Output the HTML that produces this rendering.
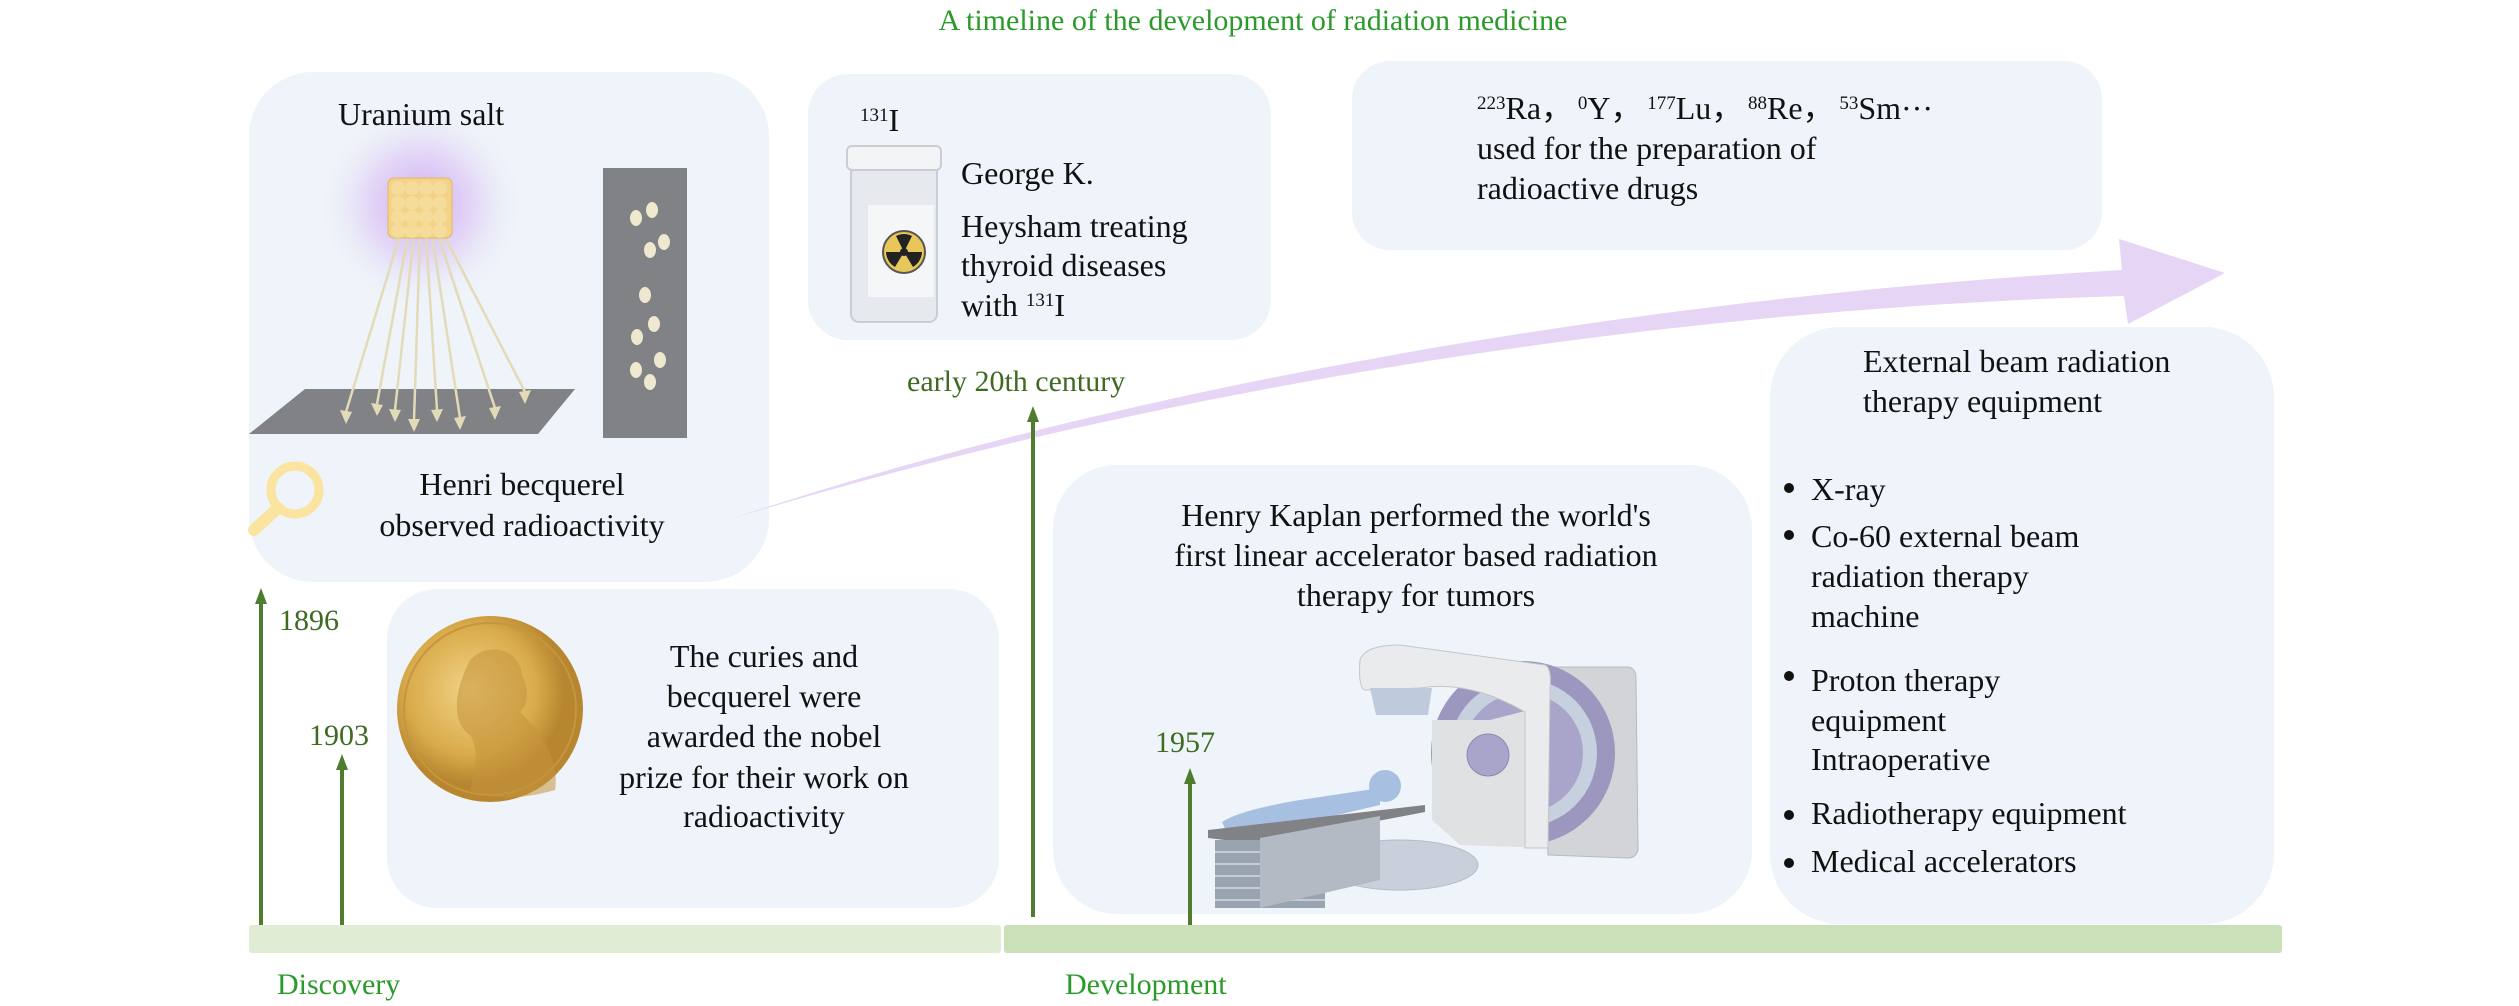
<!DOCTYPE html>
<html><head><meta charset="utf-8"><style>
html,body{margin:0;padding:0;background:#fff;}
svg{display:block;}
text{font-family:"Liberation Serif",serif;}
</style></head><body>
<svg width="2519" height="1006" viewBox="0 0 2519 1006" xmlns="http://www.w3.org/2000/svg">
<defs>
<radialGradient id="glow"><stop offset="0" stop-color="#c89cf2" stop-opacity="0.9"/><stop offset="0.5" stop-color="#dcc3f5" stop-opacity="0.6"/><stop offset="1" stop-color="#eef4f9" stop-opacity="0"/></radialGradient>
<radialGradient id="gold" cx="0.4" cy="0.4"><stop offset="0" stop-color="#f1d488"/><stop offset="0.7" stop-color="#d9aa4a"/><stop offset="1" stop-color="#b7862f"/></radialGradient>
</defs>

<text x="1253" y="30" font-size="30" fill="#2a9a2a" text-anchor="middle">A timeline of the development of radiation medicine</text>

<rect x="249" y="72" width="520" height="510" rx="64" fill="#eef4f9"/>
<rect x="808" y="74" width="463" height="266" rx="40" fill="#eef4f9"/>
<rect x="1352" y="61" width="750" height="189" rx="38" fill="#eef4f9"/>
<rect x="387" y="589" width="612" height="319" rx="50" fill="#eef4f9"/>
<rect x="1053" y="465" width="699" height="449" rx="64" fill="#eef4f9"/>
<rect x="1770" y="327" width="504" height="597" rx="70" fill="#eef4f9"/>

<rect x="249" y="925" width="752" height="28" rx="3" fill="#e0ecd3"/>
<rect x="1004" y="925" width="1278" height="28" rx="3" fill="#c9e0b8"/>
<text x="277" y="994" font-size="30" fill="#2a9a2a">Discovery</text>
<text x="1065" y="994" font-size="30" fill="#2a9a2a">Development</text>

<path d="M731,519 C1100,395 1600,300 2122,270 L2119,239 L2225,273 L2128,324 L2124,296 C1620,310 1120,400 731,519 Z" fill="#e6d5f5"/>

<g stroke="#4e7d2e" stroke-width="4" fill="none">
<line x1="261" y1="925" x2="261" y2="600"/>
<line x1="342" y1="925" x2="342" y2="766"/>
<line x1="1033" y1="917" x2="1033" y2="418"/>
<line x1="1190" y1="925" x2="1190" y2="780"/>
</g>
<g fill="#4e7d2e">
<polygon points="255,604 261,588 267,604"/>
<polygon points="336,770 342,754 348,770"/>
<polygon points="1027,422 1033,406 1039,422"/>
<polygon points="1184,784 1190,768 1196,784"/>
</g>
<g font-size="30" fill="#3f6a22">
<text x="279" y="630">1896</text>
<text x="309" y="745">1903</text>
<text x="907" y="391">early 20th century</text>
<text x="1155" y="752">1957</text>
</g>

<circle cx="421" cy="205" r="105" fill="url(#glow)"/>
<polygon points="249,434 305,389 575,389 538,434" fill="#808285"/>
<g stroke="#e3dab8" stroke-width="2.5">
<line x1="400" y1="235" x2="346" y2="412"/>
<line x1="408" y1="235" x2="377" y2="404"/>
<line x1="414" y1="235" x2="395" y2="410"/>
<line x1="420" y1="235" x2="414" y2="420"/>
<line x1="426" y1="235" x2="437" y2="410"/>
<line x1="432" y1="235" x2="460" y2="418"/>
<line x1="438" y1="235" x2="495" y2="408"/>
<line x1="444" y1="235" x2="525" y2="392"/>
</g>
<g fill="#e3dab8">
<polygon points="340,410 346,424 352,412"/>
<polygon points="371,403 377,416 383,405"/>
<polygon points="389,409 395,422 401,410"/>
<polygon points="408,419 414,432 420,419"/>
<polygon points="431,410 437,422 443,409"/>
<polygon points="454,418 460,430 466,416"/>
<polygon points="489,408 495,420 501,406"/>
<polygon points="519,392 525,404 531,390"/>
</g>
<rect x="388" y="178" width="64" height="60" rx="6" fill="#f3d38a" stroke="#e0b860"/>
<g fill="#f6dc9a">
<circle cx="398" cy="188" r="7"/><circle cx="412" cy="188" r="7"/><circle cx="426" cy="188" r="7"/><circle cx="440" cy="188" r="7"/>
<circle cx="398" cy="203" r="7"/><circle cx="412" cy="203" r="7"/><circle cx="426" cy="203" r="7"/><circle cx="440" cy="203" r="7"/>
<circle cx="398" cy="217" r="7"/><circle cx="412" cy="217" r="7"/><circle cx="426" cy="217" r="7"/><circle cx="440" cy="217" r="7"/>
<circle cx="398" cy="231" r="7"/><circle cx="412" cy="231" r="7"/><circle cx="426" cy="231" r="7"/><circle cx="440" cy="231" r="7"/>
</g>
<rect x="603" y="168" width="84" height="270" fill="#808285"/>
<g fill="#eee8cf">
<ellipse cx="636" cy="218" rx="6" ry="8"/><ellipse cx="652" cy="210" rx="6" ry="8"/>
<ellipse cx="650" cy="250" rx="6" ry="8"/><ellipse cx="664" cy="242" rx="6" ry="8"/>
<ellipse cx="645" cy="295" rx="6" ry="8"/>
<ellipse cx="637" cy="337" rx="6" ry="8"/><ellipse cx="654" cy="324" rx="6" ry="8"/>
<ellipse cx="660" cy="360" rx="6" ry="8"/><ellipse cx="636" cy="370" rx="6" ry="8"/><ellipse cx="650" cy="382" rx="6" ry="8"/>
</g>
<circle cx="295" cy="490" r="24" fill="none" stroke="#fbe3a0" stroke-width="9"/>
<line x1="278" y1="508" x2="254" y2="530" stroke="#fbe3a0" stroke-width="12" stroke-linecap="round"/>
<g font-size="32" fill="#111">
<text x="338" y="125">Uranium salt</text>
<text x="522" y="495" text-anchor="middle">Henri becquerel</text>
<text x="522" y="536" text-anchor="middle">observed radioactivity</text>
</g>

<rect x="851" y="150" width="86" height="172" rx="8" fill="#e6eaee" stroke="#c9ced3" stroke-width="2"/>
<rect x="847" y="146" width="94" height="24" rx="5" fill="#f2f4f6" stroke="#c9ced3" stroke-width="2"/>
<rect x="868" y="205" width="66" height="92" fill="#f4f6f8"/>
<circle cx="904" cy="252" r="21" fill="#e8c75a" stroke="#555" stroke-width="2"/>
<circle cx="904" cy="252" r="4" fill="#222"/>
<path d="M904,252 L896,236 A18,18 0 0 1 912,236 Z M904,252 L922,252 A18,18 0 0 1 913,267 Z M904,252 L895,267 A18,18 0 0 1 886,252 Z" fill="#222"/>
<g font-size="32" fill="#111">
<text x="860" y="131"><tspan font-size="19" dy="-10">131</tspan><tspan dy="10">I</tspan></text>
<text x="961" y="184">George K.</text>
<text x="961" y="237">Heysham treating</text>
<text x="961" y="276">thyroid diseases</text>
<text x="961" y="316">with <tspan font-size="19" dy="-10">131</tspan><tspan dy="10">I</tspan></text>
</g>

<g font-size="32" fill="#111">
<text x="1477" y="119"><tspan font-size="19" dy="-10">223</tspan><tspan dy="10">Ra，</tspan><tspan font-size="19" dy="-10"> 0</tspan><tspan dy="10">Y，</tspan><tspan font-size="19" dy="-10"> 177</tspan><tspan dy="10">Lu，</tspan><tspan font-size="19" dy="-10"> 88</tspan><tspan dy="10">Re，</tspan><tspan font-size="19" dy="-10"> 53</tspan><tspan dy="10">Sm···</tspan></text>
<text x="1477" y="159">used for the preparation of</text>
<text x="1477" y="199">radioactive drugs</text>
</g>

<circle cx="490" cy="709" r="93" fill="url(#gold)"/>
<circle cx="490" cy="709" r="86" fill="none" stroke="#c4963f" stroke-width="2"/>
<path d="M470,660 C490,640 520,650 522,675 C530,690 528,705 520,712 C540,730 560,760 555,790 C520,800 490,800 470,790 C475,770 480,750 470,735 C455,725 450,700 470,660 Z" fill="#c4933c" opacity="0.55"/>
<g font-size="32" fill="#111" text-anchor="middle">
<text x="764" y="667">The curies and</text>
<text x="764" y="707">becquerel were</text>
<text x="764" y="747">awarded the nobel</text>
<text x="764" y="788">prize for their work on</text>
<text x="764" y="827">radioactivity</text>
</g>

<g font-size="32" fill="#111" text-anchor="middle">
<text x="1416" y="526">Henry Kaplan performed the world's</text>
<text x="1416" y="566">first linear accelerator based radiation</text>
<text x="1416" y="606">therapy for tumors</text>
</g>
<path d="M1543,667 L1628,667 Q1636,668 1636,678 L1638,850 Q1636,858 1628,858 L1548,855 Z" fill="#d2d4d7" stroke="#b8bbbf"/>
<circle cx="1523" cy="753" r="92" fill="#9b97bf"/>
<circle cx="1523" cy="753" r="74" fill="#c7d0de"/>
<circle cx="1523" cy="753" r="60" fill="#a9a4c9"/>
<path d="M1432,720 L1490,720 L1548,705 L1548,848 L1460,845 L1432,820 Z" fill="#dfe1e3"/>
<path d="M1360,660 Q1365,645 1400,645 L1545,665 Q1552,668 1550,690 L1548,848 L1525,848 L1525,712 Q1470,680 1420,688 L1365,690 Q1358,688 1360,660 Z" fill="#e9ebed" stroke="#c3c6ca"/>
<path d="M1370,688 L1432,688 L1428,715 L1376,715 Z" fill="#bfcadc"/>
<circle cx="1488" cy="755" r="21" fill="#a9a4c9" stroke="#8c88b0"/>
<ellipse cx="1400" cy="865" rx="78" ry="25" fill="#c9d0db" stroke="#b5bcc7"/>
<path d="M1222,822 Q1240,810 1300,800 L1380,788 L1380,805 L1230,840 Z" fill="#a7bfe0"/>
<circle cx="1385" cy="786" r="16" fill="#a7bfe0"/>
<polygon points="1208,830 1425,805 1425,812 1258,844 1208,838" fill="#808285"/>
<rect x="1215" y="840" width="110" height="68" fill="#9aa3b0"/>
<g stroke="#c5ccd6" stroke-width="2"><line x1="1215" y1="852" x2="1325" y2="852"/><line x1="1215" y1="864" x2="1325" y2="864"/><line x1="1215" y1="876" x2="1325" y2="876"/><line x1="1215" y1="888" x2="1325" y2="888"/><line x1="1215" y1="900" x2="1325" y2="900"/></g>
<polygon points="1260,838 1380,816 1380,880 1260,908" fill="#b3bac4"/>

<g font-size="32" fill="#111">
<text x="1863" y="372">External beam radiation</text>
<text x="1863" y="412">therapy equipment</text>
<text x="1811" y="500">X-ray</text>
<text x="1811" y="547">Co-60 external beam</text>
<text x="1811" y="587">radiation therapy</text>
<text x="1811" y="627">machine</text>
<text x="1811" y="691">Proton therapy</text>
<text x="1811" y="731">equipment</text>
<text x="1811" y="770">Intraoperative</text>
<text x="1811" y="824">Radiotherapy equipment</text>
<text x="1811" y="872">Medical accelerators</text>
</g>
<g fill="#111">
<circle cx="1789" cy="488" r="5"/><circle cx="1789" cy="535" r="5"/><circle cx="1789" cy="676" r="5"/><circle cx="1789" cy="815" r="5"/><circle cx="1789" cy="863" r="5"/>
</g>
</svg>
</body></html>
